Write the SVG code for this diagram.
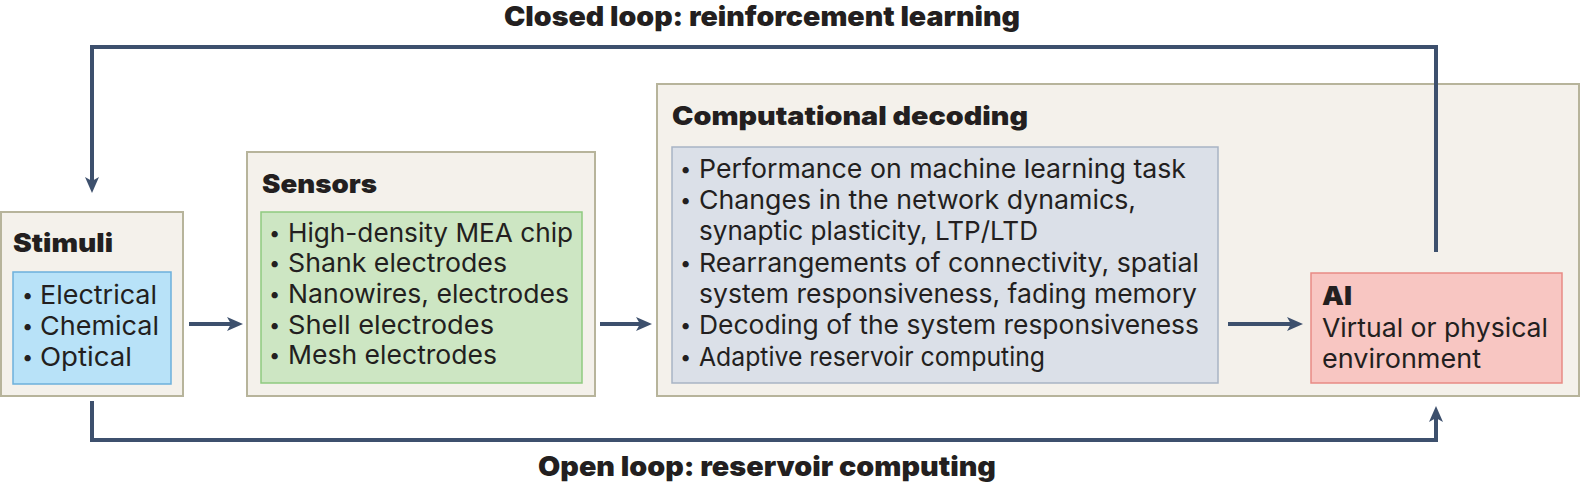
<svg xmlns="http://www.w3.org/2000/svg" width="1580" height="493" viewBox="0 0 1580 493">
<style>
.outer{fill:#f4f1eb;stroke:#b7b49b;stroke-width:2}
.t{font-family:Inter,"Noto Sans","Liberation Sans",sans-serif;font-size:26px;fill:#231f20}
.b{font-family:Inter,"Noto Sans","Liberation Sans",sans-serif;font-size:20px;fill:#231f20}
.h{font-family:Inter,"Noto Sans","Liberation Sans",sans-serif;font-size:26px;font-weight:900;fill:#231f20}
.big{font-family:Inter,"Noto Sans","Liberation Sans",sans-serif;font-size:27px;font-weight:900;fill:#231f20}
.conn{fill:none;stroke:#3d506d;stroke-width:4}
</style>
<defs>
<marker id="ah" viewBox="0 0 16 14" refX="4" refY="7" markerWidth="16" markerHeight="14" markerUnits="userSpaceOnUse" orient="auto">
<path d="M0,0 L16,7 L0,14 L4,7 z" fill="#3d506d"/>
</marker>
</defs>
<rect width="1580" height="493" fill="#ffffff"/>
<text class="big" x="504" y="26" textLength="516" lengthAdjust="spacingAndGlyphs">Closed loop: reinforcement learning</text>
<text class="big" x="538" y="476" textLength="458" lengthAdjust="spacingAndGlyphs">Open loop: reservoir computing</text>
<g id="stimuli">
<rect class="outer" x="1" y="212" width="182" height="184"/>
<text class="h" x="13" y="252" textLength="100" lengthAdjust="spacingAndGlyphs">Stimuli</text>
<rect x="13" y="272" width="158" height="112" fill="#b8e2f8" stroke="#6cb0dc" stroke-width="1.5"/>
<text class="b" x="22" y="302">•</text><text class="t" x="40" y="304" textLength="117" lengthAdjust="spacingAndGlyphs">Electrical</text>
<text class="b" x="22" y="333">•</text><text class="t" x="40" y="335" textLength="119" lengthAdjust="spacingAndGlyphs">Chemical</text>
<text class="b" x="22" y="364">•</text><text class="t" x="40" y="366" textLength="92" lengthAdjust="spacingAndGlyphs">Optical</text>
</g>
<g id="sensors">
<rect class="outer" x="247" y="152" width="348" height="244"/>
<text class="h" x="262" y="193" textLength="115" lengthAdjust="spacingAndGlyphs">Sensors</text>
<rect x="261" y="212" width="321" height="171" fill="#cde6c3" stroke="#8fca80" stroke-width="1.5"/>
<text class="b" x="269" y="240">•</text><text class="t" x="288" y="242" textLength="285" lengthAdjust="spacingAndGlyphs">High-density MEA chip</text>
<text class="b" x="269" y="270">•</text><text class="t" x="288" y="272" textLength="219" lengthAdjust="spacingAndGlyphs">Shank electrodes</text>
<text class="b" x="269" y="301">•</text><text class="t" x="288" y="303" textLength="281" lengthAdjust="spacingAndGlyphs">Nanowires, electrodes</text>
<text class="b" x="269" y="332">•</text><text class="t" x="288" y="334" textLength="206" lengthAdjust="spacingAndGlyphs">Shell electrodes</text>
<text class="b" x="269" y="362">•</text><text class="t" x="288" y="364" textLength="209" lengthAdjust="spacingAndGlyphs">Mesh electrodes</text>
</g>
<g id="decoding">
<rect class="outer" x="657" y="84" width="922" height="312"/>
<text class="h" x="672" y="125" textLength="356" lengthAdjust="spacingAndGlyphs">Computational decoding</text>
<rect x="672" y="147" width="546" height="236" fill="#dbe0e8" stroke="#a8b4c5" stroke-width="1.5"/>
<text class="b" x="680" y="176">•</text><text class="t" x="699" y="178" textLength="487" lengthAdjust="spacingAndGlyphs">Performance on machine learning task</text>
<text class="b" x="680" y="207">•</text><text class="t" x="699" y="209" textLength="437" lengthAdjust="spacingAndGlyphs">Changes in the network dynamics,</text>
<text class="t" x="699" y="240" textLength="339" lengthAdjust="spacingAndGlyphs">synaptic plasticity, LTP/LTD</text>
<text class="b" x="680" y="270">•</text><text class="t" x="699" y="272" textLength="500" lengthAdjust="spacingAndGlyphs">Rearrangements of connectivity, spatial</text>
<text class="t" x="699" y="303" textLength="498" lengthAdjust="spacingAndGlyphs">system responsiveness, fading memory</text>
<text class="b" x="680" y="332">•</text><text class="t" x="699" y="334" textLength="500" lengthAdjust="spacingAndGlyphs">Decoding of the system responsiveness</text>
<text class="b" x="680" y="364">•</text><text class="t" x="699" y="366" textLength="346" lengthAdjust="spacingAndGlyphs">Adaptive reservoir computing</text>
</g>
<g id="ai">
<rect x="1311" y="273" width="251" height="110" fill="#f8c6c2" stroke="#e88a85" stroke-width="1.5"/>
<text class="h" x="1322" y="305" textLength="30" lengthAdjust="spacingAndGlyphs">AI</text>
<text class="t" x="1322" y="337" textLength="226" lengthAdjust="spacingAndGlyphs">Virtual or physical</text>
<text class="t" x="1322" y="368" textLength="159" lengthAdjust="spacingAndGlyphs">environment</text>
</g>
<g id="connectors">
<path class="conn" d="M189,324 H231" marker-end="url(#ah)"/>
<path class="conn" d="M600,324 H640" marker-end="url(#ah)"/>
<path class="conn" d="M1228,324 H1291" marker-end="url(#ah)"/>
<path class="conn" d="M1436,252 V47 H92 V181" marker-end="url(#ah)"/>
<path class="conn" d="M92,401 V440 H1436 V418" marker-end="url(#ah)"/>
</g>
</svg>
